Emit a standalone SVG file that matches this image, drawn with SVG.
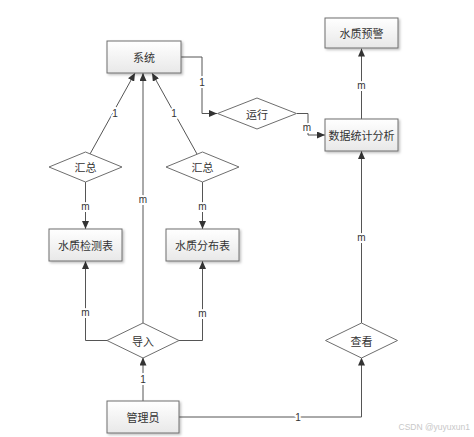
<svg xmlns="http://www.w3.org/2000/svg" width="474" height="437" viewBox="0 0 474 437">
<defs>
<linearGradient id="g" x1="0" y1="0" x2="0" y2="1">
<stop offset="0" stop-color="#ffffff"/>
<stop offset="1" stop-color="#e8e8e8"/>
</linearGradient>
<marker id="arr" markerWidth="8" markerHeight="7" refX="8" refY="3.5" orient="auto" markerUnits="userSpaceOnUse">
<path d="M0,0 L8,3.5 L0,7 z" fill="#333"/>
</marker>
<filter id="sh" x="-10%" y="-10%" width="130%" height="140%">
<feDropShadow dx="1.5" dy="1.5" stdDeviation="0.8" flood-color="#000" flood-opacity="0.25"/>
</filter>
</defs>
<style>
.box{fill:url(#g);stroke:#6e6e6e;stroke-width:1;filter:url(#sh)}
.dia{fill:#fff;stroke:#6e6e6e;stroke-width:1}
.t{font-family:"Noto Sans CJK SC","Liberation Sans",sans-serif;font-size:11px;fill:#333;text-anchor:middle;dominant-baseline:central}
.c{fill:none;stroke:#555;stroke-width:1;marker-end:url(#arr)}
.l{font-family:"Liberation Sans","DejaVu Sans",sans-serif;font-size:10px;fill:#333;text-anchor:middle;dominant-baseline:central;stroke:#fff;stroke-width:4;paint-order:stroke;stroke-linejoin:round}
.wm{font-family:"Liberation Sans",sans-serif;font-size:8.5px;fill:#c8c8c8;text-anchor:end}
</style>
<rect width="474" height="437" fill="#fff"/>
<g id="connectors">
<path class="c" d="M181,57 H202 V113.5 H217"/>
<path class="c" d="M297,113.5 H308 V135 H325"/>
<path class="c" d="M361.5,119 V48.5"/>
<path class="c" d="M90,154 L135,73"/>
<path class="c" d="M197,154 L152,73"/>
<path class="c" d="M143,323 V73"/>
<path class="c" d="M85.5,182 V229"/>
<path class="c" d="M202.5,182 V229"/>
<path class="c" d="M107,340.5 H85.5 V261"/>
<path class="c" d="M179,340.5 H202.5 V261"/>
<path class="c" d="M143,401 V357.5"/>
<path class="c" d="M179,417 H361.5 V357.5"/>
<path class="c" d="M361.5,323 V151"/>
<text class="l" x="202" y="82">1</text>
<text class="l" x="307" y="127">m</text>
<text class="l" x="361.5" y="85">m</text>
<text class="l" x="115" y="113">1</text>
<text class="l" x="174" y="113">1</text>
<text class="l" x="143" y="199">m</text>
<text class="l" x="85.5" y="206">m</text>
<text class="l" x="202.5" y="206">m</text>
<text class="l" x="85.5" y="312">m</text>
<text class="l" x="202.5" y="313">m</text>
<text class="l" x="143" y="379">1</text>
<text class="l" x="298" y="417">1</text>
<text class="l" x="361.5" y="237">m</text>
</g>
<g id="n-xitong"><rect class="box" x="107" y="41" width="74" height="32"/><text class="t" x="144" y="57">系统</text></g>
<g id="n-yujing"><rect class="box" x="325" y="18" width="73" height="30"/><text class="t" x="361.5" y="33">水质预警</text></g>
<g id="n-fenxi"><rect class="box" x="325" y="119" width="73" height="32"/><text class="t" x="361.5" y="135">数据统计分析</text></g>
<g id="n-yunxing"><polygon class="dia" points="217.5,113.5 257,98 296.5,113.5 257,129"/><text class="t" x="257" y="113.5">运行</text></g>
<g id="n-huizong1"><polygon class="dia" points="49,167 85.5,152 122,167 85.5,182"/><text class="t" x="85.5" y="167">汇总</text></g>
<g id="n-huizong2"><polygon class="dia" points="166,167 202.5,152 239,167 202.5,182"/><text class="t" x="202.5" y="167">汇总</text></g>
<g id="n-jiance"><rect class="box" x="49" y="229" width="73" height="32"/><text class="t" x="85.5" y="245">水质检测表</text></g>
<g id="n-fenbu"><rect class="box" x="166" y="229" width="73" height="32"/><text class="t" x="202.5" y="245">水质分布表</text></g>
<g id="n-daoru"><polygon class="dia" points="107,340.5 143,323 179,340.5 143,358"/><text class="t" x="143" y="340.5">导入</text></g>
<g id="n-chakan"><polygon class="dia" points="325.5,340.5 361.5,323 397.5,340.5 361.5,358"/><text class="t" x="361.5" y="340.5">查看</text></g>
<g id="n-guanli"><rect class="box" x="107" y="401" width="72" height="32"/><text class="t" x="143" y="417">管理员</text></g>
<text class="wm" x="470" y="430">CSDN @yuyuxun1</text>
</svg>
